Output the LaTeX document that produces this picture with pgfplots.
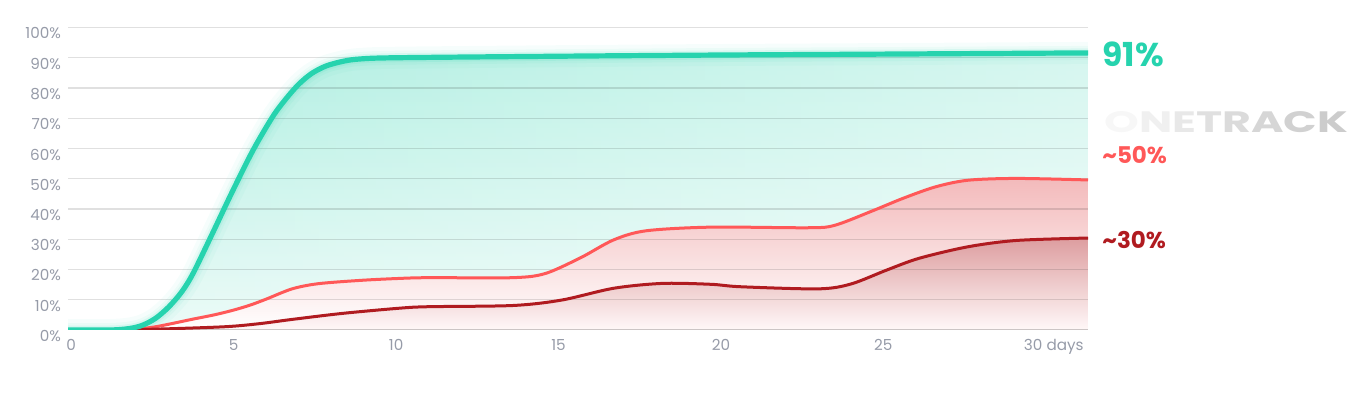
\documentclass[border=0pt]{standalone}
\usepackage{fontspec}
\setmainfont{Poppins}
\usepackage{pgfplots}
\pgfplotsset{compat=1.18}
\usepackage{pgfplotstable}
\usetikzlibrary{fadings}

\definecolor{tealc}{RGB}{38,211,174}
\definecolor{redc}{RGB}{255,88,88}
\definecolor{dredc}{RGB}{176,27,32}
\definecolor{redfill}{RGB}{243,186,187}
\definecolor{tickgray}{RGB}{150,155,168}

\tikzfading[name=fadeleft, left color=transparent!100, right color=transparent!50]

\pgfplotstableread{
x y
-0.1 0
1.2 0
1.8 0.5
2.2 1.6
2.6 3.9
3.0 7.6
3.4 12.6
3.75 18.7
4.35 32
4.97 46
5.6 59.5
6.2 70.5
6.6 76.3
7.0 81.2
7.4 84.8
7.85 87.3
8.4 88.9
8.9 89.6
10 90
15 90.5
20 90.9
25 91.2
31.3 91.6
}\tealdata

\pgfplotstableread{
x y
1.5 0
2.5 0.9
3.75 3.6
4.4 5.0
4.97 6.5
5.5 8.2
6.0 10.2
6.8 13.6
7.6 15.3
8.9 16.4
10 17
11 17.3
13.6 17.3
14.6 18.7
15.7 24
16.7 29.8
17.7 32.8
19.7 34
22.7 33.8
23.5 34.6
24.6 39.1
25.6 43.5
26.6 47.3
27.6 49.5
29.1 50.1
31.3 49.6
}\reddata

\pgfplotstableread{
x y
1.5 0
3.0 0.4
4.77 1.1
5.8 2.1
6.8 3.5
8.36 5.5
10.1 7.2
11 7.7
13.6 8.1
15.1 9.9
16.7 13.8
18.2 15.4
19.7 15.1
20.6 14.3
23 13.6
24 15.2
25.1 19.8
26.1 23.7
27.6 27.5
29.1 29.6
31.3 30.4
}\dreddata

\begin{document}
\begin{tikzpicture}
\path[use as bounding box] (-34pt,-34.5pt) rectangle (650.5pt,165pt);
\begin{axis}[
  scale only axis, width=510pt, height=151.25pt,
  xmin=-0.1, xmax=31.3, ymin=0, ymax=100,
  axis line style={draw=none},
  major tick length=0pt,
  ytick={0,10,...,100},
  yticklabels={0\%,10\%,20\%,30\%,40\%,50\%,60\%,70\%,80\%,90\%,100\%},
  xtick={0,5,10,15,20,25},
  xticklabels={0,5,10,15,20,25},
  extra x ticks={30},
  extra x tick labels={30 days},
  extra x tick style={xticklabel style={xshift=4pt}},
  tick label style={font=\fontsize{7.6}{9}\selectfont, text=tickgray},
  yticklabel style={yshift=-3pt},
  xticklabel style={yshift=-1.3pt},
]
% fills
\addplot[draw=none, smooth, top color=tealc!38!white, bottom color=tealc!9!white] table {\tealdata} \closedcycle;
\addplot[draw=none, smooth, fill=white, path fading=fadeleft] table {\tealdata} \closedcycle;
\addplot[draw=none, smooth, top color=redfill, bottom color=white] table {\reddata} \closedcycle;
\addplot[draw=none, smooth, top color=dredc!43!white, bottom color=redc!4!white] table {\dreddata} \closedcycle;
% grid lines
\pgfplotsinvokeforeach{10,20,...,100}{
  \addplot[black, opacity=0.12, line width=0.6pt] coordinates {(-0.1,#1) (31.3,#1)};
}
\addplot[black, opacity=0.2, line width=0.6pt] coordinates {(-0.1,0) (31.3,0)};
% glows
\addplot[smooth, tealc, line width=11pt, opacity=0.04] table {\tealdata};
\addplot[smooth, tealc, line width=7pt, opacity=0.06] table {\tealdata};
\addplot[smooth, tealc, line width=4.5pt, opacity=0.10] table {\tealdata};
% lines
\addplot[smooth, redc, line width=1.5pt] table {\reddata};
\addplot[smooth, dredc, line width=1.5pt] table {\dreddata};
\addplot[smooth, tealc, line width=2.6pt] table {\tealdata};
\end{axis}
\node[anchor=west, text=tealc, font=\fontsize{16.5}{18}\selectfont\bfseries, inner sep=0pt] at (517pt,138pt) {91\%};
\node[anchor=west, text=redc, font=\fontsize{11.5}{13}\selectfont\bfseries, inner sep=0pt] at (517pt,87.5pt) {\char`~50\%};
\node[anchor=west, text=dredc, font=\fontsize{11.5}{13}\selectfont\bfseries, inner sep=0pt] at (517pt,45pt) {\char`~30\%};
\node[anchor=west, inner sep=0pt] at (518pt,104pt) {\resizebox{122pt}{10.5pt}{\bfseries\textcolor{black!3}{O}\textcolor{black!6}{N}\textcolor{black!9}{E}\textcolor{black!12}{T}\textcolor{black!14}{R}\textcolor{black!16}{A}\textcolor{black!18}{C}\textcolor{black!20}{K}}};
\end{tikzpicture}
\end{document}
